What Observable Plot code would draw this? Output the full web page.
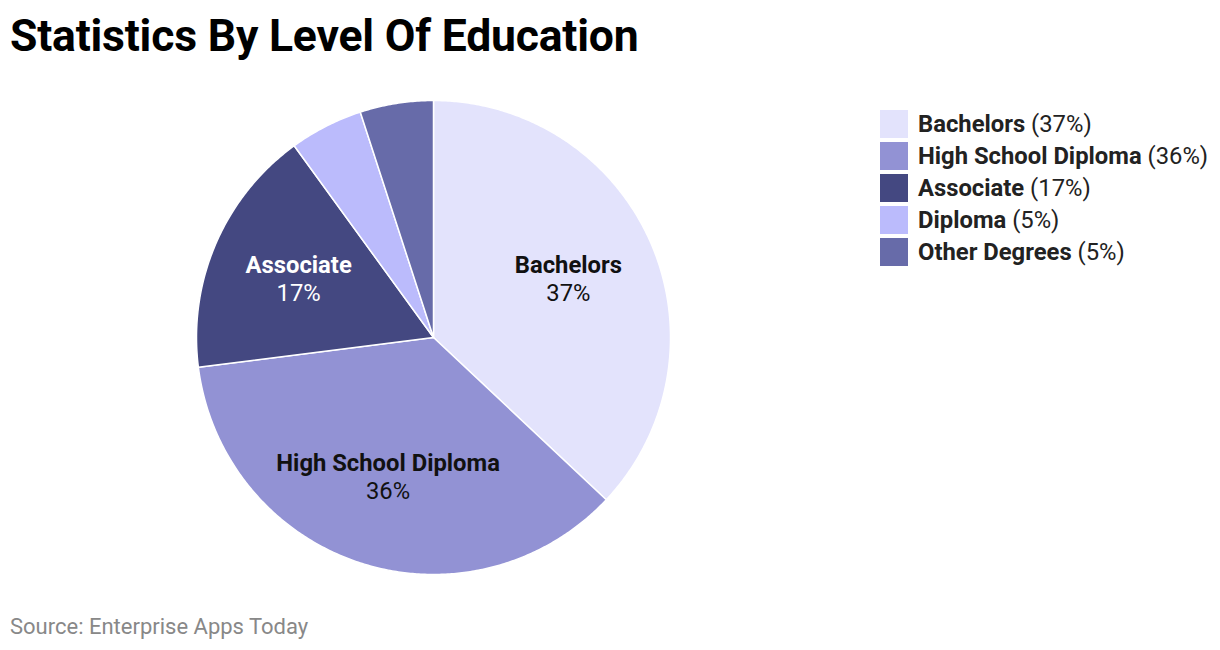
<!DOCTYPE html>
<html>
<head>
<meta charset="utf-8">
<script src="https://cdn.jsdelivr.net/npm/d3@7"></script>
<script src="https://cdn.jsdelivr.net/npm/@observablehq/plot@0.6"></script>
<style>
  html, body { margin: 0; padding: 0; background: #fff; }
  body { width: 1220px; height: 650px; position: relative; font-family: Roboto, sans-serif; overflow: hidden; }
  #title { position: absolute; left: 10px; top: 10px; font-size: 44.5px; line-height: 52px; font-weight: 700; color: #000; letter-spacing: -0.2px; white-space: nowrap; }
  #chart { position: absolute; left: 0; top: 75px; }
  #legend { position: absolute; left: 880px; top: 108px; }
  .row { display: flex; align-items: center; height: 32px; font-size: 23.8px; color: #222; white-space: nowrap; }
  .sw { width: 28px; height: 28px; margin-right: 10px; }
  .row b { font-weight: 700; }
  #caption { position: absolute; left: 10px; top: 614px; font-size: 22px; color: #888; }
</style>
</head>
<body>
<div id="title">Statistics By Level Of Education</div>
<div id="chart"></div>
<div id="legend"></div>
<div id="caption">Source: Enterprise Apps Today</div>
<script>
const categories = ["Bachelors", "High School Diploma", "Associate", "Diploma", "Other Degrees"];
const values = [37, 36, 17, 5, 5];
const colors = ["#e3e3fc", "#9292d4", "#444881", "#bbbbfc", "#676ba9"];
const labelColors = ["#111", "#111", "#fff", null, null];
const showLabel = [true, true, true, false, false];

const pie = d3.pie().sort(null).value(d => d.value)(
  categories.map((c, i) => ({ key: c, value: values[i] }))
);

// polygon points for each slice (unit circle, angle clockwise from north)
const pts = [];
pie.forEach(s => {
  const k = s.data.key;
  pts.push({ key: k, x: 0, y: 0 });
  const n = Math.max(2, Math.ceil((s.endAngle - s.startAngle) / (Math.PI / 360)));
  for (let j = 0; j <= n; j++) {
    const a = s.startAngle + (s.endAngle - s.startAngle) * j / n;
    pts.push({ key: k, x: Math.sin(a), y: Math.cos(a) });
  }
  pts.push({ key: k, x: 0, y: 0 });
});

const labels = pie.map((s, i) => {
  const a = (s.startAngle + s.endAngle) / 2;
  return { key: s.data.key, pct: s.data.value + "%", x: 0.62 * Math.sin(a), y: 0.62 * Math.cos(a), color: labelColors[i], show: showLabel[i] };
}).filter(d => d.show);

const cx = 433, cy = 262, r = 237;
const chart = Plot.plot({
  width: 860,
  height: 530,
  margin: 0,
  x: { domain: [-1, 1], range: [cx - r, cx + r], axis: null },
  y: { domain: [-1, 1], range: [cy + r, cy - r], axis: null },
  color: { domain: categories, range: colors },
  style: { fontFamily: "Roboto, sans-serif", background: "transparent" },
  marks: [
    Plot.line(pts, { x: "x", y: "y", z: "key", fill: "key", stroke: "white", strokeWidth: 1.5, strokeLinejoin: "round" }),
    Plot.text(labels, { x: "x", y: "y", text: "key", fill: "color", fontSize: 23.8, fontWeight: 700, dy: -13.5 }),
    Plot.text(labels, { x: "x", y: "y", text: "pct", fill: "color", fontSize: 23.8, dy: 14.5 })
  ]
});
document.getElementById("chart").appendChild(chart);

const legend = document.getElementById("legend");
categories.forEach((c, i) => {
  const row = document.createElement("div");
  row.className = "row";
  row.innerHTML = `<div class="sw" style="background:${colors[i]}"></div><b>${c}</b>&nbsp;(${values[i]}%)`;
  legend.appendChild(row);
});
</script>
</body>
</html>
